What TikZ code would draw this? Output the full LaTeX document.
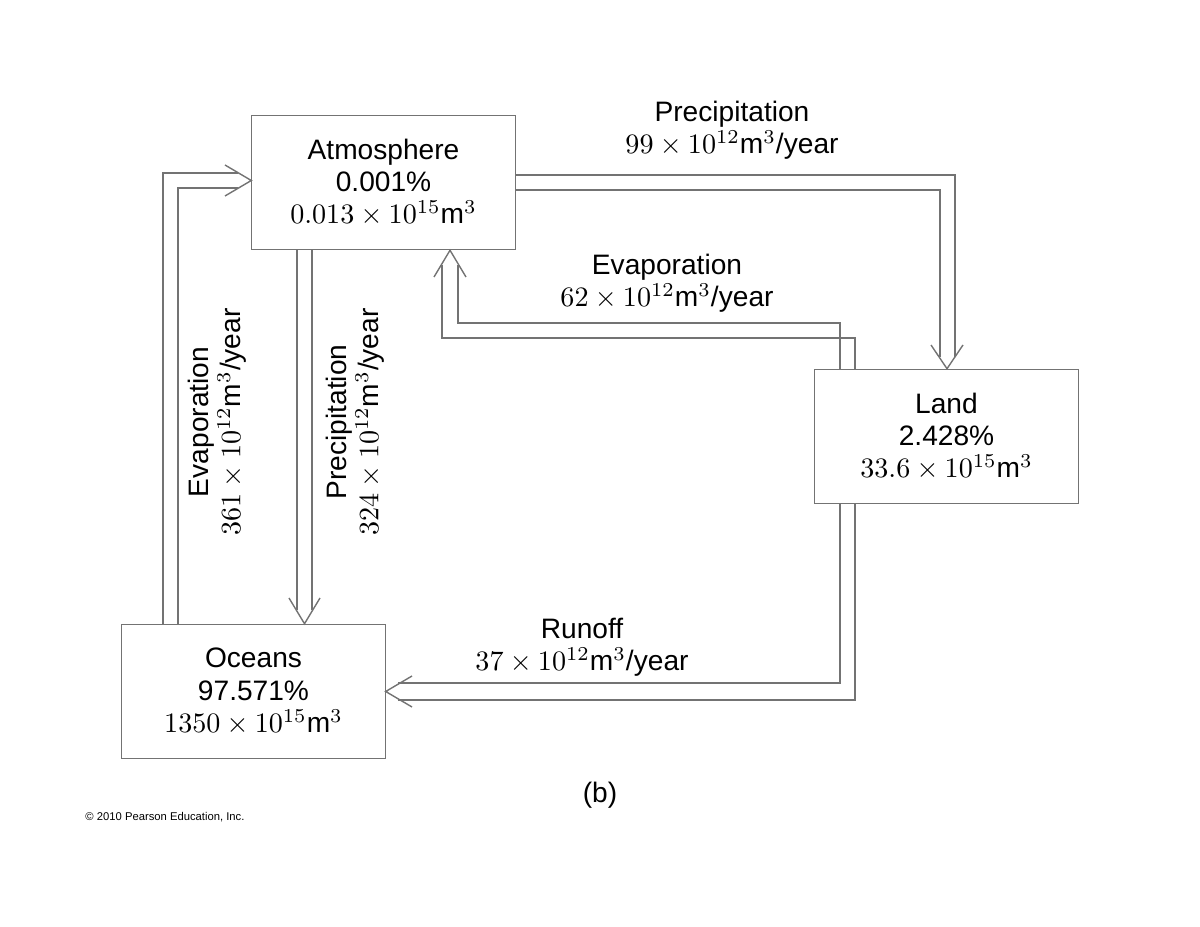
\documentclass[tikz,border=0pt]{standalone}
\usepackage{fontspec}
\setmainfont{Liberation Sans}
\usetikzlibrary{positioning,calc}
\tikzset{
  box/.style={draw=black!55, minimum width=3.29cm, minimum height=1.68cm, align=center, inner sep=0pt},
  pipe/.style={draw=black!55, line width=0.5pt},
  lbl/.style={align=center, inner sep=0pt},
}
\begin{document}
\begin{tikzpicture}[x=0.0125cm, y=-0.0125cm, font=\fontsize{10}{11.5}\selectfont]
  \useasboundingbox (0,0) rectangle (1200,927);
  % reservoirs
  \node[box] (atmos) at (383.5,182.5) {Atmosphere\\0.001\%\\$0.013\times10^{15}$m$^3$};
  \node[box] (land) at (946.5,436.5) {Land\\2.428\%\\$33.6\times10^{15}$m$^3$};
  \node[box] (ocean) at (253.5,691.5) {Oceans\\97.571\%\\$1350\times10^{15}$m$^3$};
  % precipitation atmosphere to land
  \draw[pipe] (atmos.east |- 0,175) -- (955,175) -- (955,357);
  \draw[pipe] (atmos.east |- 0,190) -- (940,190) -- (940,357);
  \draw[pipe] (931,345) -- (land.north -| 947,0) -- (963,345);
  \node[lbl] (precipL) at (732,130) {Precipitation\\$99\times10^{12}$m$^3$/year};
  % evaporation land to atmosphere
  \draw[pipe] (land.north -| 840,0) -- (840,323) -- (458,323) -- (458,265);
  \draw[pipe] (land.north -| 855,0) -- (855,338) -- (442,338) -- (442,265);
  \draw[pipe] (434,277) -- (atmos.south -| 450,0) -- (466,277);
  \node[lbl] (evapL) at (667,283) {Evaporation\\$62\times10^{12}$m$^3$/year};
  % evaporation oceans to atmosphere
  \draw[pipe] (ocean.north -| 163,0) -- (163,173) -- (238,173);
  \draw[pipe] (ocean.north -| 178,0) -- (178,188) -- (238,188);
  \draw[pipe] (225,165) -- (atmos.west |- 0,180.5) -- (225,196);
  \node[lbl, rotate=90] (evapO) at (217,422) {Evaporation\\$361\times10^{12}$m$^3$/year};
  % precipitation atmosphere to oceans
  \draw[pipe] (atmos.south -| 297,0) -- (297,610);
  \draw[pipe] (atmos.south -| 312,0) -- (312,610);
  \draw[pipe] (289,598) -- (ocean.north -| 304.5,0) -- (320,598);
  \node[lbl, rotate=90] (precipO) at (355,422) {Precipitation\\$324\times10^{12}$m$^3$/year};
  % runoff land to oceans
  \draw[pipe] (land.south -| 840,0) -- (840,683) -- (398,683);
  \draw[pipe] (land.south -| 855,0) -- (855,700) -- (398,700);
  \draw[pipe] (412,676) -- (ocean.east |- 0,691.5) -- (412,707);
  \node[lbl] (runoff) at (582,647) {Runoff\\$37\times10^{12}$m$^3$/year};
  % caption
  \node (tag) at (600,795) {(b)};
  \node[font=\fontsize{4}{5}\selectfont] (copy) at (165,817) {\textcopyright{} 2010 Pearson Education, Inc.};
\end{tikzpicture}
\end{document}
